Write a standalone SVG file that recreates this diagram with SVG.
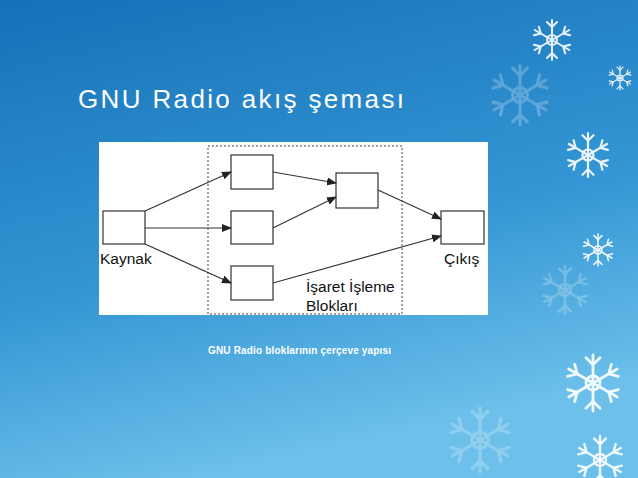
<svg xmlns="http://www.w3.org/2000/svg" width="638" height="478" viewBox="0 0 638 478">
<defs>
<linearGradient id="bg" x1="0" y1="0" x2="0.3" y2="1">
<stop offset="0" stop-color="#1671b8"/><stop offset="0.6" stop-color="#3496d4"/><stop offset="1" stop-color="#6cc0ea"/>
</linearGradient>
<marker id="ah" markerWidth="10" markerHeight="8" refX="9" refY="4" orient="auto" markerUnits="userSpaceOnUse">
<path d="M0,0 L10,4 L0,8 Z" fill="#222"/></marker>
<g id="flake" stroke="#fff" stroke-width="2" fill="none" stroke-linecap="round">
<g id="arm"><line x1="0" y1="0" x2="0" y2="-20"/><line x1="0" y1="-13" x2="-5" y2="-18"/><line x1="0" y1="-13" x2="5" y2="-18"/></g>
<use href="#arm" transform="rotate(60)"/><use href="#arm" transform="rotate(120)"/><use href="#arm" transform="rotate(180)"/><use href="#arm" transform="rotate(240)"/><use href="#arm" transform="rotate(300)"/>
<circle r="5"/>
</g>
</defs>
<style>
.b{fill:#fff;stroke:#333;stroke-width:1.2}
.t{font-family:"Liberation Sans",Arial,sans-serif;font-size:15.5px;fill:#111}
.c{stroke:#333;stroke-width:1.2;fill:none;marker-end:url(#ah)}
</style>
<rect width="638" height="478" fill="url(#bg)"/>
<g opacity="0.9">
<use href="#flake" transform="translate(552,40)"/>
<use href="#flake" transform="translate(620,78) scale(0.6)"/>
<use href="#flake" transform="translate(588,155) scale(1.1)"/>
<use href="#flake" transform="translate(598,250) scale(0.8)"/>
<use href="#flake" transform="translate(593,383) scale(1.4)"/>
<use href="#flake" transform="translate(600,460) scale(1.2)"/>
</g>
<g opacity="0.25">
<use href="#flake" transform="translate(520,95) scale(1.5)"/>
<use href="#flake" transform="translate(565,290) scale(1.2)"/>
<use href="#flake" transform="translate(480,440) scale(1.6)"/>
</g>
<text x="78" y="108" font-family="Liberation Sans,Arial,sans-serif" font-size="26" fill="#fff" textLength="326">GNU Radio akış şeması</text>
<rect x="99" y="142" width="389" height="173" fill="#fff"/>
<rect x="208" y="146" width="194" height="168" fill="none" stroke="#444" stroke-width="1" stroke-dasharray="2,2"/>
<g id="kaynak"><rect class="b" x="103" y="211" width="42" height="33"/><text class="t" x="100" y="264">Kaynak</text></g>
<g id="n1"><rect class="b" x="231" y="155" width="42" height="34"/></g>
<g id="n2"><rect class="b" x="231" y="211" width="42" height="33"/></g>
<g id="n3"><rect class="b" x="231" y="266" width="42" height="34"/></g>
<g id="n4"><rect class="b" x="336" y="173" width="42" height="35"/></g>
<g id="cikis"><rect class="b" x="441" y="211" width="43" height="33"/><text class="t" x="444" y="264">Çıkış</text></g>
<g id="label"><text class="t" x="306" y="292">İşaret İşleme</text><text class="t" x="306" y="311">Blokları</text></g>
<g id="connectors">
<line class="c" x1="145" y1="211" x2="231" y2="172"/>
<line class="c" x1="145" y1="228" x2="231" y2="228"/>
<line class="c" x1="145" y1="244" x2="231" y2="283"/>
<line class="c" x1="273" y1="172" x2="336" y2="183"/>
<line class="c" x1="273" y1="228" x2="336" y2="197"/>
<line class="c" x1="273" y1="283" x2="441" y2="236"/>
<line class="c" x1="378" y1="190" x2="441" y2="219"/>
</g>
<text x="208" y="354" font-family="Liberation Sans,Arial,sans-serif" font-size="10" font-weight="bold" fill="#fff" textLength="183">GNU Radio bloklarının çerçeve yapısı</text>
</svg>
